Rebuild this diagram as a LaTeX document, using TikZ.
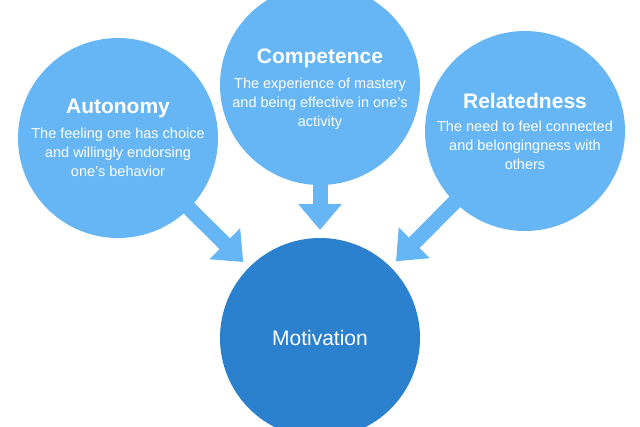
\documentclass[tikz,border=0pt]{standalone}
\usepackage{fontspec}
\setmainfont{Liberation Sans}
\usetikzlibrary{arrows.meta,backgrounds}
\definecolor{lightblue}{HTML}{66B6F5}
\definecolor{darkblue}{HTML}{2C81CE}
\tikzset{
  bubble/.style={circle, fill=lightblue, minimum size=200pt, inner sep=0pt},
  mainbubble/.style={circle, fill=darkblue, minimum size=200pt, inner sep=0pt, text=white, font=\fontsize{21}{24}\selectfont},
  title/.style={text=white, font=\bfseries\fontsize{21}{24}\selectfont, inner sep=0pt},
  desc/.style={text=white, font=\fontsize{14.5}{19}\selectfont, align=center, inner sep=0pt, anchor=north},
  bigarrow/.style={draw=lightblue, line width=15pt, -{Triangle[width=42pt,length=26pt]}, shorten >=108pt}
}
\begin{document}
\begin{tikzpicture}[x=1pt,y=-1pt]
\useasboundingbox (0,0) rectangle (640,426);
\node[bubble] (aut) at (118,138) {};
\node[bubble] (comp) at (320,85) {};
\node[bubble] (rel) at (525,131) {};
\node[mainbubble] (mot) at (320,338) {Motivation};
\node[title] (autT) at (118,108) {Autonomy};
\node[desc] (autD) at (118,127.5) {The feeling one has choice\\and willingly endorsing\\one's behavior};
\node[title] (compT) at (320,58) {Competence};
\node[desc] (compD) at (320,78) {The experience of mastery\\and being effective in one's\\activity};
\node[title] (relT) at (525,101) {Relatedness};
\node[desc] (relD) at (525,120.5) {The need to feel connected\\and belongingness with\\others};
\begin{scope}[on background layer]
\draw[bigarrow] (aut.center) -- (mot.center);
\draw[bigarrow] (comp.center) -- (mot.center);
\draw[bigarrow] (rel.center) -- (mot.center);
\end{scope}
\end{tikzpicture}
\end{document}
